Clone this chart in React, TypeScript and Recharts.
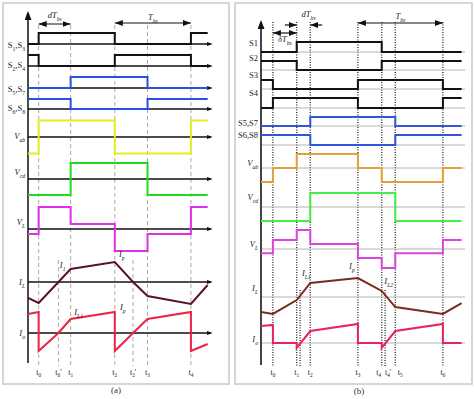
import React from 'react';
import { LineChart, Line, XAxis, YAxis, ReferenceLine, ReferenceDot } from 'recharts';

// time is in units of T_bs / 100, t0 = 0

// ---- panel (a) ----
const startA = -14;
const endA = 222;
const tickTimesA = [0, 26, 42, 100, 124, 143, 200];
const tickNamesA = ['t_0', "t_0'", 't_1', 't_2', "t_2'", 't_3', 't_4'];
const bridgeEdgesA = [0, 100, 200];
const s13LevelsA = [0, 1, 0, 1];
const s24LevelsA = [1, 0, 1, 0];
const secEdgesA = [42, 143];
const s57LevelsA = [0, 1, 0];
const s68LevelsA = [1, 0, 1];
const vabLevelsA = [-1, 1, -1, 1];
const vcdLevelsA = [-1, 1, -1];
const vlEdgesA = [0, 42, 100, 143, 200];
const vlLevelsA = [-0.23, 1, 0.23, -1, -0.23, 1];
const ilTimesA = [-14, 0, 26, 42, 100, 124, 143, 200, 222];
const ilValuesA = [-0.8, -1.05, 0, 0.65, 1, 0, -0.7, -1.1, -0.15];
const ioTimesA = [-14, 0, 0, 26, 42, 100, 100, 124, 143, 200, 200, 222];
const ioValuesA = [0.95, 1.05, -0.9, 0, 0.7, 1.05, -0.9, 0, 0.7, 1.05, -0.9, -0.55];
const rowLabelsA = ['S_1,S_3', 'S_2,S_4', 'S_5,S_7', 'S_6,S_8', 'V_ab', 'V_cd', 'V_L', 'I_L', 'I_o'];

// ---- panel (b) ----
const startB = -14;
const endB = 222;
const tickTimesB = [0, 28, 44, 100, 128, 132, 144, 200];
const tickNamesB = ['t_0', 't_1', 't_2', 't_3', 't_4', "t_4'", 't_5', 't_6'];
const s12EdgesB = [28, 128];
const s1LevelsB = [0, 1, 0];
const s2LevelsB = [1, 0, 1];
const s34EdgesB = [0, 100, 200];
const s3LevelsB = [1, 0, 1, 0];
const s4LevelsB = [0, 1, 0, 1];
const secEdgesB = [44, 144];
const s57LevelsB = [0, 1, 0];
const s68LevelsB = [1, 0, 1];
const vabEdgesB = [0, 28, 100, 128, 200];
const vabLevelsB = [-1, 0, 1, 0, -1, 0];
const vcdLevelsB = [-1, 1, -1];
const vlEdgesB = [0, 28, 44, 100, 128, 144, 200];
const vlLevelsB = [-0.22, 0.48, 1, 0.26, -0.48, -1, -0.22, 0.48];
const ilTimesB = [-14, 0, 28, 44, 100, 128, 144, 200, 222];
const ilValuesB = [-0.79, -0.89, -0.16, 0.74, 1, 0.32, -0.53, -0.89, -0.32];
const ioTimesB = [-14, 0, 0, 28, 28, 44, 100, 100, 128, 128, 144, 200, 200, 222];
const ioValuesB = [0.89, 0.95, 0, 0, -0.26, 0.63, 1, 0, 0, -0.26, 0.63, 1, 0, 0];
const rowLabelsB = ['S1', 'S2', 'S3', 'S4', 'S5,S7', 'S6,S8', 'V_ab', 'V_cd', 'V_L', 'I_L', 'I_o'];

const FONT = '"Liberation Serif", "DejaVu Serif", serif';

type Pt = { t: number; v: number };

const steps = (edges: number[], levels: number[], t0: number, t1: number): Pt[] => {
  const pts: Pt[] = [{ t: t0, v: levels[0] }];
  edges.forEach((e, i) => {
    pts.push({ t: e, v: levels[i] }, { t: e, v: levels[i + 1] });
  });
  pts.push({ t: t1, v: levels[levels.length - 1] });
  return pts;
};
const zipPts = (ts: number[], vs: number[]): Pt[] => ts.map((t, i) => ({ t, v: vs[i] }));

// text with "_x" subscripts
const Rich = ({ x, y, text, size = 9, anchor = 'middle', italic = false }: any) => {
  const parts: { s: string; sub: boolean }[] = [];
  const re = /_([A-Za-z0-9]+)/g;
  let last = 0;
  let m: RegExpExecArray | null;
  while ((m = re.exec(text))) {
    if (m.index > last) parts.push({ s: text.slice(last, m.index), sub: false });
    parts.push({ s: m[1], sub: true });
    last = re.lastIndex;
  }
  if (last < text.length) parts.push({ s: text.slice(last), sub: false });
  let down = false;
  return (
    <text x={x} y={y + size * 0.33} textAnchor={anchor} fontFamily={FONT} fontSize={size}
      fontStyle={italic ? 'italic' : 'normal'} fill="#222">
      {parts.map((p, i) => {
        const dy = p.sub && !down ? size * 0.32 : !p.sub && down ? -size * 0.32 : 0;
        down = p.sub;
        return (
          <tspan key={i} dy={dy} fontSize={p.sub ? size * 0.66 : size}>{p.s}</tspan>
        );
      })}
    </text>
  );
};

const isItalic = (s: string) => /^[VITdδ]/.test(s);

type Row = { label: string; labelOff: number; base: number; amp: number; color: string; pts: Pt[] };

const Panel = ({ cfg }: any) => {
  const { left, width, yAxisW, marginRight, xDomain, rows, tickTimes, tickNames, tickShift, fullTimes, partTimes,
    fullTop, partTop, lineBottom, guide, axis, vAxis, arrows, notes, labelSize } = cfg;
  const labelTicks = rows.map((r: Row) => r.base + r.labelOff);
  const RowTick = (p: any) => {
    const idx = labelTicks.indexOf(p.payload.value);
    const s = idx >= 0 ? rows[idx].label : '';
    return <Rich x={p.x} y={p.y} text={s} size={labelSize} anchor="end" italic={isItalic(s)} />;
  };
  const TimeTick = (p: any) => {
    const idx = tickTimes.indexOf(p.payload.value);
    return <Rich x={p.x + (tickShift[idx] || 0)} y={p.y + 6} text={tickNames[idx]} size={8} />;
  };
  return (
    <div style={{ position: 'absolute', left, top: 0 }}>
      <LineChart width={width} height={399} margin={{ top: 10, right: marginRight, bottom: 13, left: 0 }}>
        <XAxis type="number" dataKey="t" domain={xDomain} allowDataOverflow ticks={tickTimes} interval={0}
          tickLine={false} axisLine={false} tickSize={0} tickMargin={0} height={20} tick={<TimeTick />} />
        <YAxis type="number" domain={[0, 356]} reversed allowDataOverflow ticks={labelTicks} interval={0}
          width={yAxisW} tickLine={false} axisLine={false} tickSize={0} tickMargin={3} tick={<RowTick />} />
        {fullTimes.map((t: number) => (
          <ReferenceLine key={'f' + t} ifOverflow="visible" segment={[{ x: t, y: fullTop }, { x: t, y: lineBottom }]}
            stroke={guide.color} strokeWidth={guide.width} strokeDasharray={guide.dash} />
        ))}
        {partTimes.map((t: number) => (
          <ReferenceLine key={'p' + t} ifOverflow="visible" segment={[{ x: t, y: partTop }, { x: t, y: lineBottom }]}
            stroke={guide.color} strokeWidth={guide.width} strokeDasharray={guide.dash} />
        ))}
        {rows.map((r: Row) => (
          <ReferenceLine key={'ax' + r.label} ifOverflow="visible"
            segment={[{ x: xDomain[0], y: r.base }, { x: axis.end, y: r.base }]}
            shape={(p: any) => (
              <line x1={p.x1} y1={p.y1} x2={p.x2} y2={p.y2} stroke={axis.color} strokeWidth={axis.width}
                markerEnd={axis.marker ? `url(#${axis.marker})` : undefined} />
            )} />
        ))}
        <ReferenceLine ifOverflow="visible"
          segment={[{ x: xDomain[0], y: vAxis.bottom }, { x: xDomain[0], y: vAxis.top }]}
          shape={(p: any) => (
            <line x1={p.x1} y1={p.y1} x2={p.x2} y2={p.y2} stroke={vAxis.color} strokeWidth={vAxis.width}
              markerEnd="url(#arrV)" />
          )} />
        {arrows.map((a: any, i: number) => (
          <ReferenceLine key={'ar' + i} ifOverflow="visible" segment={[{ x: a.from, y: a.y }, { x: a.to, y: a.y }]}
            shape={(p: any) => (
              <line x1={p.x1} y1={p.y1} x2={p.x2} y2={p.y2} stroke="#111" strokeWidth={1.2}
                markerEnd="url(#arrF)" markerStart={a.both ? 'url(#arrF)' : undefined} />
            )} />
        ))}
        {rows.map((r: Row) => (
          <Line key={r.label} data={r.pts.map((p) => ({ t: p.t, y: r.base - p.v * r.amp }))} dataKey="y"
            type="linear" stroke={r.color} strokeWidth={2} dot={false} activeDot={false}
            isAnimationActive={false} strokeLinejoin="miter" />
        ))}
        {notes.map((n: any, i: number) => (
          <ReferenceDot key={'n' + i} x={n.t} y={n.y} r={0} ifOverflow="visible"
            shape={(p: any) => <Rich x={p.cx + n.dx} y={p.cy + n.dy} text={n.text} size={n.size || 8.5}
              italic={isItalic(n.text)} />} />
        ))}
      </LineChart>
    </div>
  );
};

const rowsA: Row[] = [
  { base: 34, amp: 11, labelOff: 1, color: '#111', pts: steps(bridgeEdgesA, s13LevelsA, startA, endA) },
  { base: 56, amp: 11, labelOff: -1, color: '#111', pts: steps(bridgeEdgesA, s24LevelsA, startA, endA) },
  { base: 78, amp: 11, labelOff: 1, color: '#2a4ee6', pts: steps(secEdgesA, s57LevelsA, startA, endA) },
  { base: 99, amp: 10, labelOff: -1, color: '#2a4ee6', pts: steps(secEdgesA, s68LevelsA, startA, endA) },
  { base: 127, amp: 16.5, labelOff: -1, color: '#e4ef1e', pts: steps(bridgeEdgesA, vabLevelsA, startA, endA) },
  { base: 169, amp: 16, labelOff: -7, color: '#1fdc1f', pts: steps(secEdgesA, vcdLevelsA, startA, endA) },
  { base: 219, amp: 22, labelOff: -7, color: '#e030e6', pts: steps(vlEdgesA, vlLevelsA, startA, endA) },
  { base: 272, amp: 20, labelOff: 0, color: '#5c1226', pts: zipPts(ilTimesA, ilValuesA) },
  { base: 323, amp: 20, labelOff: 0, color: '#ee2244', pts: zipPts(ioTimesA, ioValuesA) },
].map((r, i) => ({ ...r, label: rowLabelsA[i] }));

const rowsB: Row[] = [
  { base: 42, amp: 10, labelOff: -9, color: '#111', pts: steps(s12EdgesB, s1LevelsB, startB, endB) },
  { base: 60, amp: 9, labelOff: -12, color: '#111', pts: steps(s12EdgesB, s2LevelsB, startB, endB) },
  { base: 79, amp: 9, labelOff: -14, color: '#111', pts: steps(s34EdgesB, s3LevelsB, startB, endB) },
  { base: 98, amp: 10, labelOff: -15, color: '#111', pts: steps(s34EdgesB, s4LevelsB, startB, endB) },
  { base: 116, amp: 9, labelOff: -3, color: '#3355dd', pts: steps(secEdgesB, s57LevelsB, startB, endB) },
  { base: 135, amp: 10, labelOff: -10, color: '#3355dd', pts: steps(secEdgesB, s68LevelsB, startB, endB) },
  { base: 158, amp: 14, labelOff: -5, color: '#e3a13a', pts: steps(vabEdgesB, vabLevelsB, startB, endB) },
  { base: 197, amp: 14, labelOff: -10, color: '#44ee44', pts: steps(secEdgesB, vcdLevelsB, startB, endB) },
  { base: 239, amp: 19, labelOff: -5, color: '#dd44dd', pts: steps(vlEdgesB, vlLevelsB, startB, endB) },
  { base: 287, amp: 19, labelOff: -9, color: '#7b2a1e', pts: zipPts(ilTimesB, ilValuesB) },
  { base: 333, amp: 19, labelOff: -4, color: '#e8245a', pts: zipPts(ioTimesB, ioValuesB) },
].map((r, i) => ({ ...r, label: rowLabelsB[i] }));

const cfgA = {
  left: 0, width: 230, yAxisW: 28, marginRight: 17, xDomain: [-14, 229], rows: rowsA,
  tickTimes: tickTimesA, tickNames: tickNamesA, tickShift: [],
  fullTimes: [0, 42, 100, 143, 200], partTimes: [26, 124], fullTop: 15, partTop: 250, lineBottom: 356,
  guide: { color: '#aaa', width: 1, dash: '4 3' },
  axis: { color: '#111', width: 1.3, end: 226, marker: 'arrS' },
  vAxis: { top: 3, bottom: 353, color: '#111', width: 1.5 },
  arrows: [{ from: 0, to: 42, y: 14, both: true }, { from: 100, to: 200, y: 13, both: true }],
  notes: [
    { t: 21, y: 5, dx: 0, dy: 0, text: 'dT_bs' },
    { t: 150, y: 7, dx: 0, dy: 0, text: 'T_bs' },
    { t: 42, y: 259, dx: -8, dy: -4, text: 'I_1' },
    { t: 100, y: 252, dx: 7, dy: -8, text: 'I_p' },
    { t: 42, y: 309, dx: 8, dy: -7, text: 'I_L1' },
    { t: 100, y: 302, dx: 8, dy: -5, text: 'I_p' },
  ],
  labelSize: 8.5,
};

const cfgB = {
  left: 236, width: 236, yAxisW: 25, marginRight: 7, xDomain: [-14, 226], rows: rowsB,
  tickTimes: tickTimesB, tickNames: tickNamesB, tickShift: [0, 0, 0, 0, -3, 3, 5, 0],
  fullTimes: [0, 28, 44, 100, 128, 144, 200], partTimes: [32, 132], fullTop: 12, partTop: 280, lineBottom: 357,
  guide: { color: '#333', width: 1.4, dash: '1 1.5' },
  axis: { color: '#b4b4b4', width: 1, end: 226, marker: '' },
  vAxis: { top: 12, bottom: 355, color: '#444', width: 2 },
  arrows: [
    { from: 14, to: 28, y: 15, both: false },
    { from: 58, to: 44, y: 15, both: false },
    { from: 0, to: 28, y: 23, both: true },
    { from: 100, to: 200, y: 13, both: true },
  ],
  notes: [
    { t: 42, y: 4, dx: 0, dy: 0, text: 'dT_bs' },
    { t: 14, y: 29, dx: 0, dy: 0, text: 'δT_bs' },
    { t: 150, y: 6, dx: 0, dy: 0, text: 'T_bs' },
    { t: 44, y: 273, dx: -4, dy: -10, text: 'I_L1' },
    { t: 100, y: 268, dx: -6, dy: -12, text: 'I_p' },
    { t: 128, y: 281, dx: 7, dy: -10, text: 'I_L2' },
  ],
  labelSize: 8.5,
};

const App = () => (
  <div style={{ position: 'absolute', left: 0, top: 0, width: 474, height: 399, background: '#fff', overflow: 'hidden' }}>
    <svg width={0} height={0} style={{ position: 'absolute' }}>
      <defs>
        <marker id="arrF" viewBox="0 0 8 6" refX={8} refY={3} markerWidth={8} markerHeight={6}
          markerUnits="userSpaceOnUse" orient="auto-start-reverse">
          <path d="M0,0 L8,3 L0,6 Z" fill="#111" />
        </marker>
        <marker id="arrS" viewBox="0 0 6 4" refX={4} refY={2} markerWidth={6} markerHeight={4}
          markerUnits="userSpaceOnUse" orient="auto">
          <path d="M0,0 L6,2 L0,4 Z" fill="#111" />
        </marker>
        <marker id="arrV" viewBox="0 0 9 7" refX={7} refY={3.5} markerWidth={9} markerHeight={7}
          markerUnits="userSpaceOnUse" orient="auto">
          <path d="M0,0 L9,3.5 L0,7 Z" fill="#111" />
        </marker>
      </defs>
    </svg>
    <div style={{ position: 'absolute', left: 2, top: 2, width: 224, height: 379, border: '2px solid #d6d6d6' }} />
    <div style={{ position: 'absolute', left: 234, top: 2, width: 235, height: 379, border: '2px solid #d6d6d6' }} />
    <Panel cfg={cfgA} />
    <Panel cfg={cfgB} />
    <div style={{ position: 'absolute', left: 106, top: 385, width: 20, textAlign: 'center', fontFamily: FONT, fontSize: 9, color: '#333' }}>(a)</div>
    <div style={{ position: 'absolute', left: 349, top: 386, width: 20, textAlign: 'center', fontFamily: FONT, fontSize: 9, color: '#333' }}>(b)</div>
  </div>
);

export default App;
